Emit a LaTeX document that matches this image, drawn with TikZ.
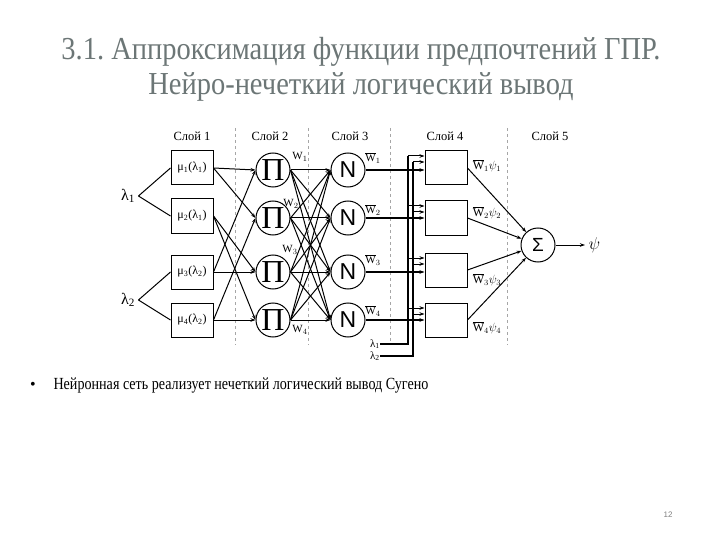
\documentclass[tikz,border=0pt]{standalone}
\usepackage{fontspec}
\setmainfont{Liberation Serif}
\newfontfamily\sansf{Liberation Sans}
\newfontfamily\uzkf[FakeStretch=0.89]{Liberation Serif}
\newfontfamily\uzkt[FakeStretch=0.83]{Liberation Serif}
\usetikzlibrary{arrows.meta,positioning,calc}
\definecolor{zagl}{RGB}{108,118,118}
\frenchspacing
\newcommand{\mf}[2]{μ\textsubscript{#1}(λ\textsubscript{#2})}
\tikzset{
  blok/.style={draw,line width=1pt,minimum width=42pt,minimum height=34pt,inner sep=0pt,font=\fontsize{12}{12}\selectfont},
  uzel/.style={circle,draw,line width=1pt,minimum size=34pt,inner sep=0pt},
  strel/.style={line width=1pt,-{Stealth[length=5pt,width=3.5pt]}},
  razd/.style={dashed,gray!70,thin},
  sloj/.style={font=\fontsize{12.5}{12.5}\selectfont},
  metka/.style={font=\fontsize{11}{11}\selectfont,inner sep=1pt},
}
\begin{document}
\begin{tikzpicture}[x=1pt,y=-1pt]
  \useasboundingbox (0,0) rectangle (720,540);
  \node[text=zagl,font=\uzkf\fontsize{32}{32}\selectfont] (t1) at (361,52) {3.1. Аппроксимация функции предпочтений ГПР.};
  \node[text=zagl,font=\uzkf\fontsize{32}{32}\selectfont] (t2) at (361,87) {Нейро-нечеткий логический вывод};
  \foreach \x/\n in {192/1,270/2,350/3,445/4,550/5} \node[sloj] (c\n) at (\x,136) {Слой \n};
  \foreach \x in {235,308,390,507} \draw[razd] (\x,128) -- (\x,345);
  \node[font=\fontsize{16}{16}\selectfont] (x1) at (128,196) {λ\textsubscript{1}};
  \node[font=\fontsize{16}{16}\selectfont] (x2) at (128,300) {λ\textsubscript{2}};
  \node[blok] (m1) at (192,168) {\mf11}; \node[blok] (m2) at (192,216) {\mf21};
  \node[blok] (m3) at (192,272) {\mf32}; \node[blok] (m4) at (192,320) {\mf42};
  \draw[line width=1pt] (x1.east) -- (m1.west); \draw[line width=1pt] (x1.east) -- (m2.west);
  \draw[line width=1pt] (x2.east) -- (m3.west); \draw[line width=1pt] (x2.east) -- (m4.west);
  \foreach \y [count=\i] in {170,218,272,320} {
    \node[uzel,font=\fontsize{32}{32}\selectfont] (p\i) at (273,\y) {Π};
    \node[uzel,font=\sansf\fontsize{23}{23}\selectfont] (n\i) at (348,\y) {N};
  }
  \foreach \a/\b in {1/1,1/2,2/3,2/4,3/1,3/3,4/2,4/4} \draw[strel] (m\a.east) -- (p\b.west);
  \foreach \i in {1,...,4} \foreach \j in {1,...,4} \draw[strel] (p\i.east) -- (n\j.west);
  \node[metka] (w1) at (300,157) {W$_1$}; \node[metka] (w2) at (291,204) {W$_2$};
  \node[metka] (w3) at (290,250) {W$_3$}; \node[metka] (w4) at (300,330) {W$_4$};
  \foreach \y [count=\i] in {168,218,270,320} \node[blok] (b\i) at (446,\y) {};
  \foreach \y [count=\i] in {158,210,260,311} \node[metka] (v\i) at (373,\y) {$\overline{\mathrm{W}}_{\i}$};
  \foreach \i in {1,...,4} \draw[strel,line width=1.3pt] (n\i.east) -- (n\i.east -| b\i.west);
  \coordinate (s1) at (408,0); \coordinate (s2) at (413,0);
  \node[metka,inner sep=0pt] (l1) at (375,344) {λ\textsubscript{1}}; \node[metka,inner sep=0pt] (l2) at (375,356) {λ\textsubscript{2}};
  \draw[line width=1.4pt] (l1.east) -| ([yshift=12pt]b1.west -| s1);
  \draw[line width=1.4pt] (l2.east) -| ([yshift=6pt]b1.west -| s2);
  \foreach \i in {1,...,4} {
    \draw[strel] ([yshift=12pt]b\i.west -| s1) -- ([yshift=12pt]b\i.west);
    \draw[strel] ([yshift=6pt]b\i.west -| s2) -- ([yshift=6pt]b\i.west);
  }
  \node[uzel,font=\sansf\fontsize{19}{19}\selectfont] (sum) at (538,245) {Σ};
  \foreach \i in {1,...,4} \draw[strel] (b\i.east) -- (sum);
  \node[metka,font=\fontsize{12}{12}\selectfont] (q1) at (487,166) {$\overline{\mathrm{W}}_1\psi_1$};
  \node[metka,font=\fontsize{12}{12}\selectfont] (q2) at (487,213) {$\overline{\mathrm{W}}_2\psi_2$};
  \node[metka,font=\fontsize{12}{12}\selectfont] (q3) at (487,280) {$\overline{\mathrm{W}}_3\psi_3$};
  \node[metka,font=\fontsize{12}{12}\selectfont] (q4) at (487,328) {$\overline{\mathrm{W}}_4\psi_4$};
  \coordinate (out) at (585,245);
  \draw[strel] (sum) -- (out);
  \node[font=\fontsize{16}{16}\selectfont,right=0pt of out] (psi) {$\psi$};
  \node[font=\fontsize{16}{16}\selectfont] (bul) at (33,386) {•};
  \node[font=\uzkt\fontsize{17}{17}\selectfont,anchor=west] (txt) at (50,386) {Нейронная сеть реализует нечеткий логический вывод Сугено};
  \node[text=gray,font=\sansf\fontsize{8}{8}\selectfont] (num) at (668,515) {12};
\end{tikzpicture}
\end{document}
